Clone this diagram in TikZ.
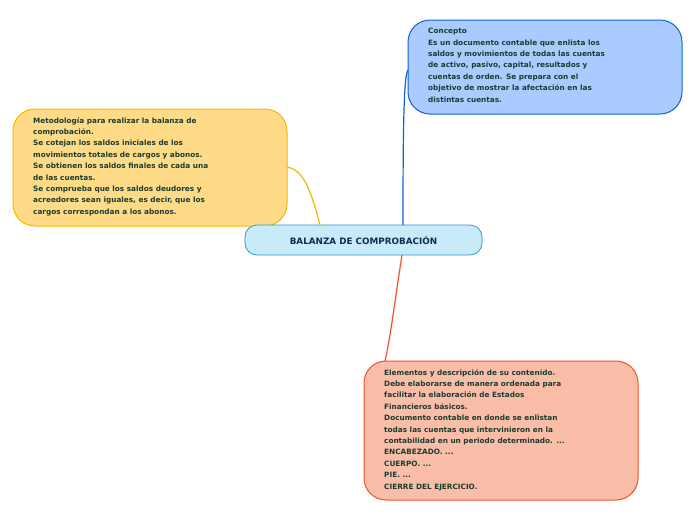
\documentclass[tikz,border=0pt]{standalone}
\usepackage{fontspec}
\setmainfont{DejaVu Sans}
\definecolor{textc}{HTML}{1A3C2E}
\definecolor{blueD}{RGB}{21,96,208}
\definecolor{blueF}{RGB}{169,203,255}
\definecolor{yelD}{RGB}{245,184,0}
\definecolor{yelF}{RGB}{255,219,136}
\definecolor{redD}{RGB}{240,82,42}
\definecolor{redF}{RGB}{249,189,168}
\definecolor{cenD}{RGB}{51,153,204}
\definecolor{cenF}{RGB}{200,235,250}
\definecolor{cenT}{RGB}{20,40,80}
\begin{document}
\begin{tikzpicture}[x=1pt,y=-1pt,
  box/.style={rounded corners=22pt,line width=1pt},
  txt/.style={anchor=north west,align=left,font=\bfseries\fontsize{7.3}{11.4}\selectfont,text=textc,inner sep=0pt}]
\useasboundingbox (0,0) rectangle (696,520);
\fill[white] (0,0) rectangle (696,520);
% boxes
\draw[box,fill=blueF,draw=blueD] (408,20) rectangle (682,114);
\coordinate (cA) at (408,70);
\draw[box,fill=yelF,draw=yelD] (13,109) rectangle (287,226);
\coordinate (mA) at (287,167);
\draw[box,fill=redF,draw=redD] (364,361) rectangle (638,500);
\coordinate (eA) at (385,361);
\node[draw=cenD,fill=cenF,rounded corners=12pt,line width=0.8pt,minimum width=237pt,minimum height=30pt,font=\bfseries\fontsize{8.8}{10}\selectfont,text=cenT] (center) at (363.5,240) {BALANZA DE COMPROBACIÓN};
\coordinate (c1) at (403,225);
\coordinate (c2) at (320,225);
\coordinate (c3) at (402,255);
% connectors
\draw[line width=1.2pt,blueD] (c1) .. controls (403,120) and (404,75) .. (cA);
\draw[line width=1.2pt,yelD] (c2) .. controls (312,195) and (305,170) .. (mA);
\draw[line width=1.2pt,redD] (c3) .. controls (395,300) and (390,340) .. (eA);
% texts
\node[txt] (t1) at (428,28) {Concepto\\Es un documento contable que enlista los\\saldos y movimientos de todas las cuentas\\de activo, pasivo, capital, resultados y\\cuentas de orden. Se prepara con el\\objetivo de mostrar la afectación en las\\distintas cuentas.};
\node[txt] (t2) at (33,117) {Metodología para realizar la balanza de\\comprobación.\\Se cotejan los saldos iniciales de los\\movimientos totales de cargos y abonos.\\Se obtienen los saldos finales de cada una\\de las cuentas.\\Se comprueba que los saldos deudores y\\acreedores sean iguales, es decir, que los\\cargos correspondan a los abonos.};
\node[txt] (t3) at (384,369) {Elementos y descripción de su contenido.\\Debe elaborarse de manera ordenada para\\facilitar la elaboración de Estados\\Financieros básicos.\\Documento contable en donde se enlistan\\todas las cuentas que intervinieron en la\\contabilidad en un periodo determinado. ...\\ENCABEZADO. ...\\CUERPO. ...\\PIE. ...\\CIERRE DEL EJERCICIO.};
\end{tikzpicture}
\end{document}
